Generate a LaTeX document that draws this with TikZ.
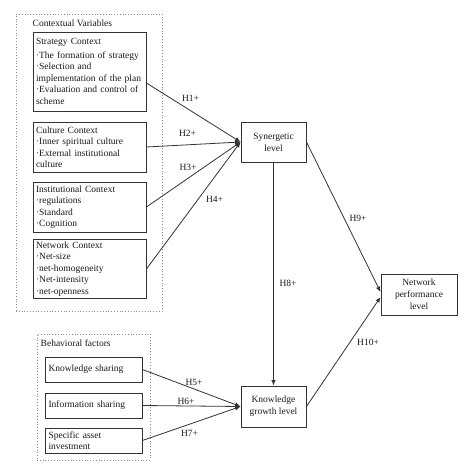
\documentclass[tikz,border=0pt]{standalone}
\usepackage{fontspec}
\setmainfont{Liberation Serif}
\usetikzlibrary{arrows.meta}
\begin{document}
\begin{tikzpicture}[x=1pt,y=-1pt,
  every node/.style={font=\fontsize{9.5}{11.5}\selectfont, text=black!90},
  box/.style={draw=black!80, line width=0.9pt, inner xsep=3pt, inner ysep=2pt, align=left},
  cbox/.style={draw=black!80, line width=0.9pt, align=center, inner sep=2pt, font=\fontsize{9.5}{12}\selectfont},
  dotbox/.style={draw=black!45, dotted, line width=0.8pt, inner sep=0pt},
  conn/.style={draw=black!80, line width=0.8pt, -{Latex[length=5.5pt,width=4.5pt]}},
  lbl/.style={inner sep=1pt}
]
\useasboundingbox (0,0) rectangle (474,474);

% contextual variables
\node[dotbox, minimum width=146pt, minimum height=297pt] (ctx) at (89,162.5) {};
\node[anchor=west, inner sep=0pt] (ctxt) at (32.5,23) {Contextual Variables};
\node[box, minimum width=113pt, minimum height=79pt, text width=107pt] (strat) at (89.5,71.5)
  {Strategy Context\\[2pt]·The formation of strategy\\·Selection and\\\mbox{implementation of the plan}\\·Evaluation and control of\\scheme};
\node[box, minimum width=113pt, minimum height=50pt, text width=107pt] (cult) at (89.5,147)
  {Culture Context\\·Inner spiritual culture\\·External institutional\\culture};
\node[box, minimum width=113pt, minimum height=50pt, text width=107pt] (inst) at (89.5,207)
  {Institutional Context\\·regulations\\·Standard\\·Cognition};
\node[box, minimum width=113pt, minimum height=58pt, text width=107pt] (netc) at (89.5,269)
  {Network Context\\·Net-size\\·net-homogeneity\\·Net-intensity\\·net-openness};

% behavioral factors
\node[dotbox, minimum width=113pt, minimum height=126pt] (beh) at (93.5,397) {};
\node[anchor=west, inner sep=0pt] (beht) at (40.5,343) {Behavioral factors};
\node[box, minimum width=97pt, minimum height=25pt, text width=90pt, inner xsep=3.5pt] (ks) at (93.5,369.5) {Knowledge sharing};
\node[box, minimum width=97pt, minimum height=25pt, text width=90pt, inner xsep=3.5pt] (is) at (93.5,405.5) {Information sharing};
\node[box, minimum width=97pt, minimum height=25pt, text width=90pt, inner xsep=3.5pt, inner ysep=1pt] (sa) at (93.5,440.5) {Specific asset\\investment};

% right-hand boxes
\node[cbox, minimum width=65pt, minimum height=40pt] (syn) at (273.5,142) {Synergetic\\level};
\node[cbox, minimum width=65pt, minimum height=41pt] (kg) at (273.5,406.5) {Knowledge\\growth level};
\node[cbox, minimum width=76pt, minimum height=41pt] (np) at (419,294.5) {Network\\performance\\level};

% connectors
\draw[conn] ([yshift=-11.5pt]strat.east) -- (syn.west);
\draw[conn] (cult.east) -- (syn.west);
\draw[conn] (inst.east) -- (syn.west);
\draw[conn] (netc.east) -- (syn.west);
\draw[conn] (ks.east) -- (kg.west);
\draw[conn] (is.east) -- (kg.west);
\draw[conn] (sa.east) -- (kg.west);
\draw[conn] (syn.south) -- (kg.north);
\draw[conn] (syn.east) -- ([yshift=2.5pt]np.west);
\draw[conn] (kg.east) -- ([yshift=-2.5pt]np.west);

% labels
\node[lbl] (h1) at (190.5,98) {H1+};
\node[lbl] (h2) at (187.5,133) {H2+};
\node[lbl] (h3) at (188,167) {H3+};
\node[lbl] (h4) at (214.5,199) {H4+};
\node[lbl] (h5) at (194,382) {H5+};
\node[lbl] (h6) at (186,401) {H6+};
\node[lbl] (h7) at (189.5,433) {H7+};
\node[lbl] (h8) at (288,283) {H8+};
\node[lbl] (h9) at (358,218) {H9+};
\node[lbl] (h10) at (368,342) {H10+};
\end{tikzpicture}
\end{document}
